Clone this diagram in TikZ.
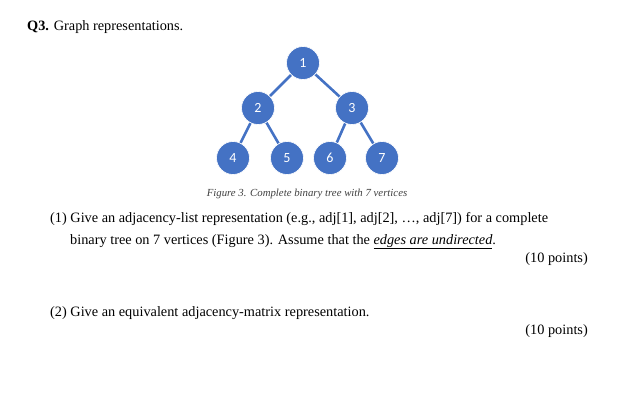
\documentclass[tikz,border=0pt]{standalone}
\usepackage{fontspec}
\setmainfont{Liberation Serif}
\newfontfamily\nodefont{Carlito}
\usetikzlibrary{backgrounds}
\begin{document}
\begin{tikzpicture}[x=1pt,y=-1pt,
  vert/.style={circle,fill=blue1,draw=white,line width=0.6pt,minimum size=33pt,inner sep=0pt,text=white,font=\nodefont\fontsize{14}{14}\selectfont},
  edge/.style={draw=blue1,line width=2.6pt},
  txt/.style={anchor=base west,inner sep=0pt,font=\fontsize{14.3}{16}\selectfont}]
\definecolor{blue1}{HTML}{4472C4}
\useasboundingbox (0,0) rectangle (624,404);
\node[txt] (q) at (27,31) {\textbf{Q3.} Graph representations.};
\node[vert] (n1) at (303,63) {1};
\node[vert] (n2) at (258,108) {2};
\node[vert] (n3) at (352,108) {3};
\node[vert] (n4) at (233,158) {4};
\node[vert] (n5) at (287,158) {5};
\node[vert] (n6) at (330,158) {6};
\node[vert] (n7) at (382,158) {7};
\begin{scope}[on background layer]
\draw[edge] (n1) -- (n2); \draw[edge] (n1) -- (n3);
\draw[edge] (n2) -- (n4); \draw[edge] (n2) -- (n5);
\draw[edge] (n3) -- (n6); \draw[edge] (n3) -- (n7);
\end{scope}
\node[inner sep=0pt,font=\itshape\fontsize{10.8}{12}\selectfont,text=black!75] (cap) at (307,194) {Figure 3. Complete binary tree with 7 vertices};
\node[txt] (p1) at (50,222) {(1) Give an adjacency-list representation (e.g., adj[1], adj[2], \ldots, adj[7]) for a complete};
\node[txt] (p1b) at (70,244) {binary tree on 7 vertices (Figure 3). Assume that the \underline{\textit{edges are undirected}}.};
\node[txt,anchor=base east] (pt1) at (588,262) {(10 points)};
\node[txt] (p2) at (50,316) {(2) Give an equivalent adjacency-matrix representation.};
\node[txt,anchor=base east] (pt2) at (588,334) {(10 points)};
\end{tikzpicture}
\end{document}
